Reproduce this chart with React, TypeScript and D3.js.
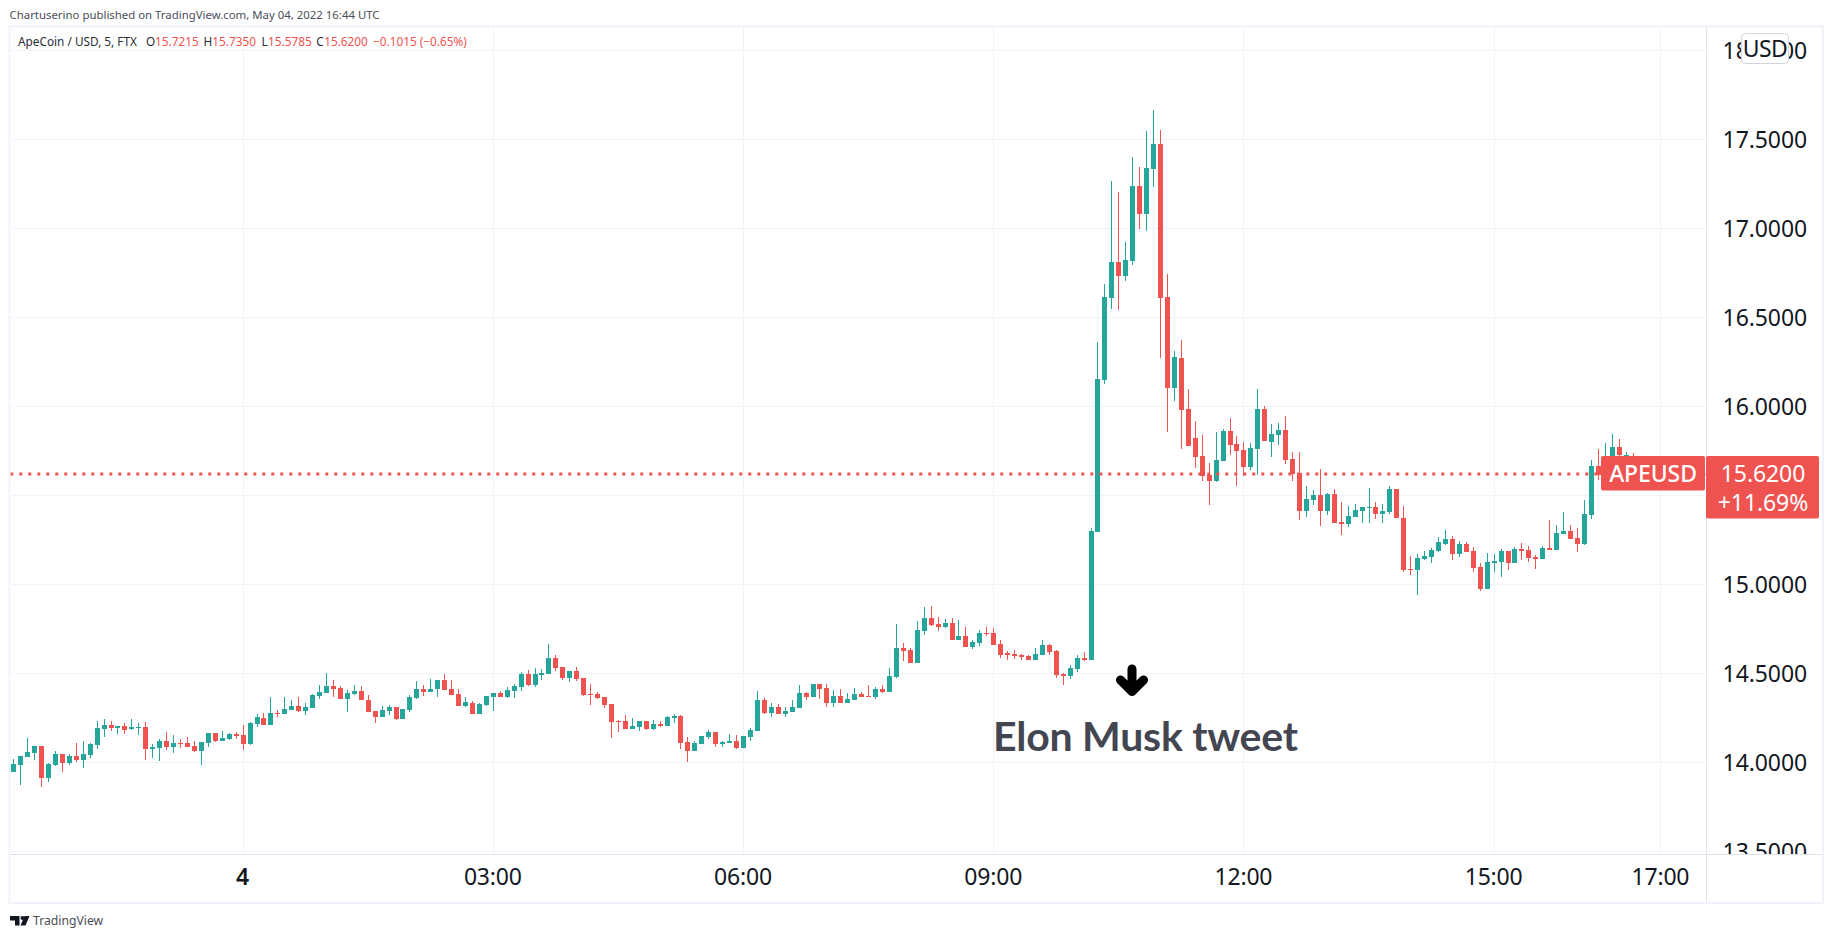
import { useEffect, useRef } from 'react';
import * as d3 from 'd3';

// ApeCoin / USD, 5 minute bars, first bar is 3 May 21:15 UTC
const firstBar = Date.UTC(2022, 4, 3, 21, 15);
const barMinutes = 5;

const opens = [
  13.946, 13.985, 14.03, 14.052, 14.092, 13.912, 13.985, 14.047, 13.996, 14.036, 14.013, 14.041, 14.097, 14.187, 14.21, 14.193, 14.204, 14.187, 14.193, 14.198, 14.075, 14.081, 14.12, 14.086, 14.109, 14.109, 14.092, 14.064, 14.109, 14.165, 14.12, 14.131, 14.159,
  14.154, 14.103, 14.215, 14.249, 14.21, 14.277, 14.272, 14.294, 14.316, 14.288, 14.305, 14.373,
  14.39, 14.429, 14.418, 14.356, 14.384, 14.401, 14.35, 14.288, 14.255, 14.288, 14.311, 14.243,
  14.294, 14.361, 14.412, 14.395, 14.412, 14.463, 14.412, 14.384, 14.316, 14.333, 14.272, 14.322,
  14.367, 14.39, 14.367, 14.401, 14.423, 14.496, 14.434, 14.491, 14.496, 14.586, 14.536, 14.474,
  14.513, 14.474, 14.384, 14.384, 14.367, 14.328, 14.232, 14.232, 14.187, 14.198, 14.232, 14.187,
  14.215, 14.204, 14.249, 14.26, 14.114, 14.064, 14.103, 14.142, 14.17, 14.103, 14.109, 14.12,
  14.081, 14.142, 14.176, 14.35, 14.277, 14.311, 14.272, 14.283, 14.305, 14.39, 14.367, 14.44,
  14.418, 14.333, 14.373, 14.333, 14.35, 14.384, 14.373, 14.367, 14.412, 14.395, 14.479, 14.642,
  14.631, 14.558, 14.738, 14.811, 14.777, 14.76, 14.783, 14.687, 14.71, 14.648, 14.67, 14.727,
  14.727, 14.665, 14.614, 14.609, 14.603, 14.597, 14.575, 14.603, 14.659, 14.625, 14.496, 14.485,
  14.524, 14.586, 14.575, 15.294, 16.148, 16.609, 16.811, 16.732, 16.816, 17.238, 17.081, 17.333,
  17.474, 16.614, 16.103, 16.272, 15.985, 15.822, 15.721, 15.614, 15.581, 15.693, 15.861, 15.788,
  15.755, 15.659, 15.76, 15.985, 15.8, 15.839, 15.867, 15.704, 15.625, 15.412, 15.474, 15.502,
  15.412, 15.507, 15.35, 15.339, 15.378, 15.412, 15.429, 15.434, 15.395, 15.406, 15.536, 15.373,
  15.086, 15.081, 15.142, 15.154, 15.187, 15.227, 15.255, 15.17, 15.227, 15.187, 15.097, 14.974,
  15.12, 15.125, 15.187, 15.12, 15.199, 15.193, 15.154, 15.142, 15.204, 15.193, 15.283, 15.3,
  15.26, 15.227, 15.39, 15.665, 15.614, 15.705, 15.773, 15.7, 15.7215,
];

const highs = [
  14.019, 14.036, 14.137, 14.092, 14.092, 13.996, 14.064, 14.047, 14.047, 14.109, 14.12, 14.109, 14.232, 14.243, 14.232, 14.204, 14.221, 14.243, 14.221, 14.227, 14.103, 14.131, 14.17, 14.154, 14.131, 14.142, 14.12, 14.114, 14.165, 14.165, 14.176, 14.165, 14.17,
  14.21, 14.227, 14.272, 14.277, 14.367, 14.294, 14.367, 14.35, 14.367, 14.333, 14.384, 14.434,
  14.502, 14.463, 14.429, 14.406, 14.434, 14.429, 14.378, 14.288, 14.316, 14.322, 14.311, 14.3,
  14.378, 14.457, 14.434, 14.468, 14.463, 14.496, 14.463, 14.412, 14.367, 14.345, 14.333, 14.373,
  14.39, 14.401, 14.423, 14.44, 14.507, 14.519, 14.53, 14.524, 14.665, 14.603, 14.536, 14.513,
  14.536, 14.474, 14.44, 14.395, 14.367, 14.328, 14.238, 14.266, 14.249, 14.232, 14.232, 14.238,
  14.232, 14.26, 14.272, 14.266, 14.142, 14.12, 14.148, 14.182, 14.17, 14.12, 14.159, 14.154,
  14.148, 14.193, 14.401, 14.361, 14.333, 14.328, 14.311, 14.35, 14.434, 14.395, 14.44, 14.44,
  14.44, 14.406, 14.412, 14.39, 14.418, 14.395, 14.434, 14.423, 14.434, 14.53, 14.777, 14.67,
  14.642, 14.794, 14.873, 14.878, 14.816, 14.805, 14.811, 14.8, 14.76, 14.687, 14.743, 14.76,
  14.755, 14.687, 14.625, 14.631, 14.609, 14.603, 14.642, 14.687, 14.665, 14.631, 14.502, 14.547,
  14.603, 14.62, 15.316, 16.361, 16.687, 17.266, 17.204, 16.923, 17.401, 17.345, 17.547, 17.665,
  17.552, 16.743, 16.311, 16.373, 16.097, 15.918, 15.839, 15.682, 15.856, 15.873, 15.934, 15.833,
  15.8, 15.794, 16.097, 16.002, 15.901, 15.906, 15.946, 15.743, 15.743, 15.552, 15.53, 15.648,
  15.513, 15.536, 15.463, 15.44, 15.451, 15.434, 15.541, 15.463, 15.451, 15.552, 15.536, 15.44,
  15.159, 15.17, 15.187, 15.204, 15.266, 15.305, 15.272, 15.243, 15.238, 15.21, 15.12, 15.176,
  15.17, 15.199, 15.187, 15.21, 15.232, 15.215, 15.165, 15.215, 15.361, 15.333, 15.406, 15.333,
  15.316, 15.474, 15.699, 15.76, 15.794, 15.845, 15.816, 15.743, 15.735,
];

const lows = [
  13.946, 13.873, 14.03, 14.013, 13.861, 13.89, 13.979, 13.946, 13.985, 14.002, 13.968, 14.024, 14.075, 14.142, 14.176, 14.159, 14.159, 14.182, 14.154, 14.013, 14.024, 14.007, 14.069, 14.052, 14.081, 14.086, 14.058, 13.985, 14.086, 14.114, 14.12, 14.125, 14.131,
  14.069, 14.097, 14.198, 14.21, 14.21, 14.255, 14.272, 14.294, 14.283, 14.266, 14.305, 14.356,
  14.39, 14.367, 14.356, 14.283, 14.378, 14.35, 14.283, 14.221, 14.255, 14.266, 14.238, 14.243,
  14.283, 14.356, 14.373, 14.395, 14.367, 14.406, 14.378, 14.316, 14.311, 14.272, 14.272, 14.316,
  14.288, 14.367, 14.361, 14.361, 14.401, 14.429, 14.423, 14.463, 14.496, 14.513, 14.463, 14.451,
  14.457, 14.373, 14.322, 14.356, 14.305, 14.137, 14.17, 14.187, 14.187, 14.176, 14.182, 14.182,
  14.198, 14.204, 14.221, 14.075, 14.002, 14.064, 14.103, 14.131, 14.086, 14.086, 14.109, 14.075,
  14.081, 14.12, 14.176, 14.272, 14.255, 14.272, 14.255, 14.283, 14.305, 14.35, 14.367, 14.356,
  14.311, 14.311, 14.333, 14.333, 14.35, 14.367, 14.367, 14.356, 14.39, 14.395, 14.474, 14.569,
  14.558, 14.558, 14.715, 14.766, 14.738, 14.755, 14.687, 14.687, 14.648, 14.637, 14.654, 14.71,
  14.659, 14.586, 14.575, 14.581, 14.575, 14.575, 14.575, 14.603, 14.603, 14.474, 14.434, 14.468,
  14.507, 14.569, 14.575, 15.294, 16.125, 16.547, 16.541, 16.704, 16.794, 16.996, 16.985, 17.232,
  16.272, 15.856, 16.03, 15.76, 15.777, 15.654, 15.581, 15.446, 15.575, 15.693, 15.727, 15.552,
  15.609, 15.642, 15.614, 15.805, 15.715, 15.783, 15.676, 15.581, 15.361, 15.378, 15.446, 15.328,
  15.39, 15.345, 15.277, 15.322, 15.378, 15.345, 15.345, 15.367, 15.345, 15.395, 15.373, 15.069,
  15.052, 14.94, 15.137, 15.12, 15.182, 15.221, 15.137, 15.154, 15.182, 15.069, 14.963, 14.974,
  15.069, 15.041, 15.081, 15.12, 15.137, 15.125, 15.086, 15.142, 15.193, 15.193, 15.283, 15.255,
  15.182, 15.221, 15.367, 15.586, 15.6, 15.68, 15.7, 15.68, 15.5785,
];

const closes = [
  13.991, 14.036, 14.058, 14.092, 13.912, 13.991, 14.047, 13.996, 14.036, 14.013, 14.047, 14.103, 14.193, 14.21, 14.193, 14.204, 14.182, 14.198, 14.198, 14.075, 14.086, 14.12, 14.086, 14.109, 14.103, 14.086, 14.064, 14.114, 14.165, 14.12, 14.137, 14.159, 14.148,
  14.103, 14.221, 14.255, 14.21, 14.277, 14.272, 14.3, 14.316, 14.288, 14.311, 14.378, 14.395,
  14.429, 14.412, 14.356, 14.39, 14.401, 14.35, 14.283, 14.255, 14.294, 14.311, 14.243, 14.3,
  14.367, 14.412, 14.395, 14.412, 14.463, 14.406, 14.378, 14.316, 14.339, 14.272, 14.328, 14.373,
  14.39, 14.367, 14.406, 14.429, 14.496, 14.434, 14.496, 14.502, 14.586, 14.53, 14.474, 14.513,
  14.468, 14.378, 14.378, 14.361, 14.322, 14.227, 14.227, 14.187, 14.204, 14.232, 14.187, 14.215,
  14.204, 14.255, 14.26, 14.109, 14.064, 14.109, 14.148, 14.17, 14.103, 14.114, 14.12, 14.081,
  14.148, 14.182, 14.35, 14.277, 14.311, 14.272, 14.288, 14.311, 14.39, 14.367, 14.44, 14.412,
  14.333, 14.373, 14.333, 14.356, 14.384, 14.367, 14.367, 14.412, 14.395, 14.485, 14.642, 14.625,
  14.558, 14.743, 14.811, 14.772, 14.76, 14.783, 14.687, 14.71, 14.648, 14.676, 14.727, 14.721,
  14.659, 14.603, 14.603, 14.597, 14.592, 14.575, 14.609, 14.659, 14.62, 14.491, 14.485, 14.53,
  14.586, 14.575, 15.3, 16.154, 16.614, 16.811, 16.732, 16.822, 17.238, 17.081, 17.339, 17.474,
  16.609, 16.103, 16.277, 15.979, 15.777, 15.715, 15.609, 15.581, 15.699, 15.861, 15.783, 15.749,
  15.659, 15.766, 15.985, 15.805, 15.845, 15.867, 15.699, 15.62, 15.412, 15.479, 15.502, 15.412,
  15.507, 15.345, 15.339, 15.384, 15.418, 15.434, 15.434, 15.395, 15.412, 15.536, 15.373, 15.081,
  15.081, 15.148, 15.159, 15.193, 15.238, 15.255, 15.17, 15.227, 15.182, 15.092, 14.974, 15.125,
  15.131, 15.187, 15.12, 15.199, 15.187, 15.148, 15.142, 15.204, 15.193, 15.288, 15.3, 15.255,
  15.227, 15.395, 15.665, 15.614, 15.705, 15.773, 15.725, 15.727, 15.62,
];

const priceTicks = [13.5, 14, 14.5, 15, 15.5, 16, 16.5, 17, 17.5, 18];
const timeTicks = [
  { at: Date.UTC(2022, 4, 4, 0), label: '4' },
  { at: Date.UTC(2022, 4, 4, 3), label: '03:00' },
  { at: Date.UTC(2022, 4, 4, 6), label: '06:00' },
  { at: Date.UTC(2022, 4, 4, 9), label: '09:00' },
  { at: Date.UTC(2022, 4, 4, 12), label: '12:00' },
  { at: Date.UTC(2022, 4, 4, 15), label: '15:00' },
  { at: Date.UTC(2022, 4, 4, 17), label: '17:00' },
];
const lastPrice = 15.62;

const publishedLine = 'Chartuserino published on TradingView.com, May 04, 2022 16:44 UTC';
const legendItems = [
  { x: 18, text: 'ApeCoin / USD, 5, FTX', dark: true },
  { x: 146, text: 'O', dark: true },
  { x: 155, text: '15.7215', dark: false },
  { x: 203.5, text: 'H', dark: true },
  { x: 212.3, text: '15.7350', dark: false },
  { x: 261.5, text: 'L', dark: true },
  { x: 268, text: '15.5785', dark: false },
  { x: 316.3, text: 'C', dark: true },
  { x: 324.2, text: '15.6200', dark: false },
  { x: 373, text: '−0.1015 (−0.65%)', dark: false },
];

const UP = '#26a69a';
const DOWN = '#ef5350';
const GRID = '#f0f3fa';
const SEP = '#e0e3eb';
const TEXT = '#131722';
const FONT = '"Noto Sans", sans-serif';

export default function App() {
  const svgRef = useRef<SVGSVGElement>(null);

  useEffect(() => {
    if (!svgRef.current) return;
    const svg = d3.select(svgRef.current);
    svg.selectAll('*').remove();

    const left = 10.5;
    const top = 27;
    const paneRight = 1706;
    const paneBottom = 854;
    const right = 1823;
    const bottom = 903;

    const x = d3.scaleUtc()
      .domain([timeTicks[0].at, timeTicks[6].at])
      .range([242.6, 1660.4]);
    const y = d3.scaleLinear().domain([14, 17.5]).range([762.3, 139.3]);

    const defs = svg.append('defs');
    defs.append('clipPath').attr('id', 'pane')
      .append('rect').attr('x', left).attr('y', top)
      .attr('width', paneRight - left).attr('height', paneBottom - top);
    defs.append('clipPath').attr('id', 'scale')
      .append('rect').attr('x', paneRight).attr('y', top)
      .attr('width', right - paneRight).attr('height', paneBottom - top);

    svg.append('rect').attr('width', 1834).attr('height', 939).attr('fill', '#fff');

    // frame
    svg.append('rect')
      .attr('x', 9.5).attr('y', 26.5)
      .attr('width', right - 9.5).attr('height', bottom - 26.5)
      .attr('fill', 'none').attr('stroke', GRID).attr('stroke-width', 2);

    const pane = svg.append('g').attr('clip-path', 'url(#pane)');

    // grid
    pane.selectAll('.vgrid').data(timeTicks).enter().append('line')
      .attr('x1', (d) => Math.round(x(d.at)) + 0.5).attr('x2', (d) => Math.round(x(d.at)) + 0.5)
      .attr('y1', top).attr('y2', paneBottom)
      .attr('stroke', GRID);
    pane.selectAll('.hgrid').data(priceTicks).enter().append('line')
      .attr('x1', left).attr('x2', paneRight)
      .attr('y1', (d) => Math.round(y(d)) + 0.5).attr('y2', (d) => Math.round(y(d)) + 0.5)
      .attr('stroke', GRID);

    // candles
    const bars = opens.map((open, i) => ({
      time: firstBar + i * barMinutes * 60000,
      open,
      high: highs[i],
      low: lows[i],
      close: closes[i],
    }));
    const candles = pane.selectAll('.candle').data(bars).enter().append('g')
      .attr('shape-rendering', 'crispEdges')
      .attr('fill', (d) => (d.close >= d.open ? UP : DOWN));
    candles.append('rect')
      .attr('x', (d) => Math.round(x(d.time)))
      .attr('width', 1)
      .attr('y', (d) => Math.round(y(d.high)))
      .attr('height', (d) => Math.max(1, Math.round(y(d.low)) - Math.round(y(d.high))));
    candles.append('rect')
      .attr('x', (d) => Math.round(x(d.time)) - 2)
      .attr('width', 5)
      .attr('y', (d) => Math.round(y(Math.max(d.open, d.close))))
      .attr('height', (d) => Math.max(1, Math.round(y(Math.min(d.open, d.close))) - Math.round(y(Math.max(d.open, d.close)))));

    // last price line
    pane.append('line')
      .attr('x1', left - 0.2).attr('x2', paneRight)
      .attr('y1', y(lastPrice)).attr('y2', y(lastPrice))
      .attr('stroke', DOWN).attr('stroke-width', 3)
      .attr('stroke-dasharray', '3 6');

    // annotation
    svg.append('path')
      .attr('d', 'M1132 669V691M1120.5 680L1132 691.5L1143.5 680')
      .attr('fill', 'none').attr('stroke', '#000')
      .attr('stroke-width', 9).attr('stroke-linecap', 'round').attr('stroke-linejoin', 'round');
    svg.append('text')
      .attr('x', 993).attr('y', 751)
      .attr('font-family', 'Lato, sans-serif').attr('font-weight', 700).attr('font-size', 41)
      .attr('textLength', 305).attr('lengthAdjust', 'spacing')
      .attr('fill', '#434651')
      .text('Elon Musk tweet');

    // axis separators
    svg.append('line').attr('x1', paneRight + 0.5).attr('x2', paneRight + 0.5)
      .attr('y1', top).attr('y2', bottom - 1).attr('stroke', SEP).attr('stroke-width', 1);
    svg.append('line').attr('x1', left).attr('x2', right - 1)
      .attr('y1', paneBottom + 0.5).attr('y2', paneBottom + 0.5).attr('stroke', SEP);

    // price scale, 15.5000 sits behind the last price label so it is left out
    svg.append('g').attr('clip-path', 'url(#scale)')
      .selectAll('text').data(priceTicks.filter((d) => d !== 15.5)).enter().append('text')
      .attr('x', 1807).attr('y', (d) => y(d)).attr('dy', '0.36em')
      .attr('text-anchor', 'end')
      .attr('font-family', FONT).attr('font-size', 23).attr('letter-spacing', -0.1)
      .attr('fill', TEXT)
      .text((d) => d.toFixed(4));

    // time scale
    svg.append('g').selectAll('text').data(timeTicks).enter().append('text')
      .attr('x', (d) => x(d.at)).attr('y', 877).attr('dy', '0.36em')
      .attr('text-anchor', 'middle')
      .attr('font-family', FONT).attr('font-size', 23).attr('letter-spacing', -0.2)
      .attr('font-weight', (d) => (d.label === '4' ? 600 : 400))
      .attr('fill', TEXT)
      .text((d) => d.label);

    // currency badge
    svg.append('rect')
      .attr('x', 1741.5).attr('y', 33.5).attr('width', 47).attr('height', 30).attr('rx', 4)
      .attr('fill', '#fff').attr('stroke', '#d1d4dc');
    svg.append('text')
      .attr('x', 1765).attr('y', 48.5).attr('dy', '0.36em')
      .attr('text-anchor', 'middle')
      .attr('font-family', FONT).attr('font-size', 23).attr('letter-spacing', -0.6)
      .attr('fill', TEXT).text('USD');

    // last price labels
    svg.append('rect').attr('x', 1601).attr('y', 456).attr('width', 104).attr('height', 34.5).attr('rx', 2).attr('fill', DOWN);
    svg.append('rect').attr('x', 1706).attr('y', 456).attr('width', 113).attr('height', 62.5).attr('rx', 2).attr('fill', DOWN);
    const labelText = [
      { x: 1653, y: 473.5, text: 'APEUSD', weight: 500 },
      { x: 1763, y: 473.5, text: lastPrice.toFixed(4), weight: 400 },
      { x: 1763, y: 502.5, text: '+11.69%', weight: 400 },
    ];
    svg.append('g').selectAll('text').data(labelText).enter().append('text')
      .attr('x', (d) => d.x).attr('y', (d) => d.y).attr('dy', '0.36em')
      .attr('text-anchor', 'middle')
      .attr('font-family', FONT).attr('font-size', 23).attr('letter-spacing', -0.1)
      .attr('font-weight', (d) => d.weight)
      .attr('fill', '#fff')
      .text((d) => d.text);

    // header and legend
    svg.append('text')
      .attr('x', 9.5).attr('y', 19)
      .attr('font-family', FONT).attr('font-size', 11.4)
      .attr('fill', '#4a4e59').text(publishedLine);
    svg.append('g').selectAll('text').data(legendItems).enter().append('text')
      .attr('x', (d) => d.x).attr('y', 45.5)
      .attr('font-family', FONT).attr('font-size', 11.8)
      .attr('fill', (d) => (d.dark ? '#2a2e39' : DOWN))
      .text((d) => d.text);

    // logo
    svg.append('path')
      .attr('d', 'M10 916H19.5V925.5H15V920.5H10ZM24.5 916H29.5L25.5 925.5H20.5Z')
      .attr('fill', '#131722');
    svg.append('circle').attr('cx', 22.5).attr('cy', 918).attr('r', 2).attr('fill', '#131722');
    svg.append('text')
      .attr('x', 33).attr('y', 925)
      .attr('font-family', FONT).attr('font-size', 12.2)
      .attr('fill', '#4a4e59').text('TradingView');
  }, []);

  return (
    <svg
      ref={svgRef}
      width={1834}
      height={939}
      style={{ position: 'absolute', left: 0, top: 0, display: 'block' }}
    />
  );
}
